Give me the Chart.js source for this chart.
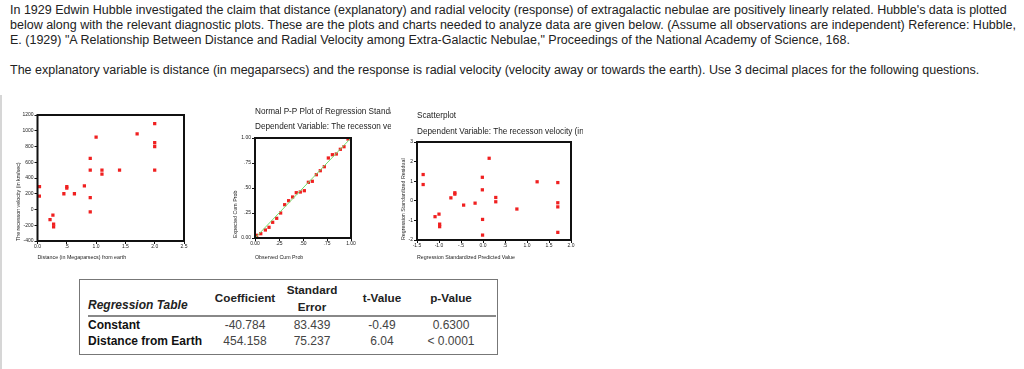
<!DOCTYPE html>
<html>
<head>
<meta charset="utf-8">
<script src="https://cdn.jsdelivr.net/npm/chart.js"></script>
<style>
    body { margin: 0; width: 1024px; height: 369px; overflow: hidden; background: #fff; position: relative;
           font-family: Arial, "Liberation Sans", sans-serif; color: #222; }
    .intro { position: absolute; left: 10px; top: 3px; font-size: 12.5px; line-height: 15px; white-space: nowrap; }
    .edge { position: absolute; left: 0; top: 95px; width: 2px; height: 274px; background: #d6d6d6; }
    canvas { position: absolute; }
    .ctitle { position: absolute; font-size: 8.2px; white-space: nowrap; overflow: hidden; color: #222; }
    .reg { position: absolute; left: 79px; top: 279px; width: 419px; height: 76px; border: 1px solid #777; box-sizing: border-box; }
    .reg table { position: absolute; left: 8px; top: 0; border-collapse: collapse; table-layout: fixed; }
    .reg th { font-size: 11.7px; font-weight: bold; line-height: 17px; text-align: center; vertical-align: middle; height: 34px; padding: 0;
              border-bottom: 2px solid #888; }
    .reg th.lbl { text-align: left; font-style: italic; vertical-align: bottom; padding-bottom: 1px; font-size: 12px; }
    .reg td { font-size: 12px; color: #444; text-align: center; padding: 0; height: 16px; line-height: 16px; }
    .reg td.lbl { text-align: left; font-weight: bold; font-size: 12px; color: #111; }
</style>
</head>
<body>
<div class="intro">In 1929 Edwin Hubble investigated the claim that distance (explanatory) and radial velocity (response) of extragalactic nebulae are positively linearly related. Hubble's data is plotted<br>below along with the relevant diagnostic plots. These are the plots and charts needed to analyze data are given below. (Assume all observations are independent) Reference: Hubble,<br>E. (1929) "A Relationship Between Distance and Radial Velocity among Extra-Galactic Nebulae," Proceedings of the National Academy of Science, 168.<br><br>The explanatory variable is distance (in megaparsecs) and the response is radial velocity (velocity away or towards the earth). Use 3 decimal places for the following questions.</div>
<div class="edge"></div>

<canvas id="fitChart" width="200" height="165" style="left:0;top:100px"></canvas>
<canvas id="ppChart" width="180" height="165" style="left:200px;top:100px"></canvas>
<canvas id="residChart" width="220" height="165" style="left:380px;top:100px"></canvas>

<div class="ctitle" style="left:255px;top:104px;width:136px;line-height:15px">Normal P-P Plot of Regression Standardized Residual<br>Dependent Variable: The recesson velocity (in km/sec)</div>
<div class="ctitle" style="left:417px;top:108px;width:166px;line-height:16px">Scatterplot<br>Dependent Variable: The recesson velocity (in km/sec)</div>

<div class="reg"><table id="regTable"></table></div>

<script>
// Hubble 1929: distance (Mpc) and recession velocity (km/sec)
const distance = [0.032, 0.034, 0.214, 0.263, 0.275, 0.275, 0.45, 0.5, 0.5, 0.63, 0.8, 0.9,
                  0.9, 0.9, 0.9, 1.0, 1.1, 1.1, 1.4, 1.7, 2.0, 2.0, 2.0, 2.0];
const velocity = [170, 290, -130, -70, -185, -220, 200, 290, 270, 200, 300, -30,
                  650, 150, 500, 920, 450, 500, 500, 960, 500, 850, 800, 1090];

// normal P-P plot of the standardized residuals
const observedCum = [0.017, 0.06, 0.108, 0.146, 0.184, 0.226, 0.267, 0.309, 0.35, 0.392, 0.43, 0.472,
                     0.514, 0.556, 0.597, 0.639, 0.68, 0.722, 0.764, 0.806, 0.847, 0.889, 0.927, 0.969];
const expectedCum = [0.027, 0.043, 0.08, 0.107, 0.157, 0.197, 0.25, 0.333, 0.373, 0.41, 0.453, 0.46,
                     0.473, 0.557, 0.567, 0.633, 0.673, 0.713, 0.8, 0.833, 0.84, 0.887, 0.913, 0.99];
const refLine = [0, 1];

// standardized predicted value vs standardized residual
const stdPredicted = [-1.36, -1.36, -1.09, -1.0, -0.985, -0.985, -0.73, -0.64, -0.64, -0.44, -0.18, -0.015,
                      -0.015, -0.01, -0.01, 0.14, 0.29, 0.29, 0.77, 1.23, 1.7, 1.7, 1.7, 1.7];
const stdResidual = [1.34, 0.83, -0.81, -0.68, -1.19, -1.32, 0.15, 0.41, 0.34, -0.22, -0.12, 1.2,
                     0.56, -0.95, -1.75, 2.17, 0.17, -0.05, -0.42, 0.97, 0.93, -0.1, -0.31, -1.61];

// tick values and labels
const distTicks = [0, 0.5, 1, 1.5, 2, 2.5];
const distLabels = ['0.0', '.5', '1.0', '1.5', '2.0', '2.5'];
const velTicks = [-400, -200, 0, 200, 400, 600, 800, 1000, 1200];
const velLabels = ['-400', '-200', '0', '200', '400', '600', '800', '1000', '1200'];
const probTicks = [0, 0.25, 0.5, 0.75, 1];
const probLabels = ['0.00', '.25', '.50', '.75', '1.00'];
const predTicks = [-1.5, -1, -0.5, 0, 0.5, 1, 1.5, 2];
const predLabels = ['-1.5', '-1.0', '-.5', '0.0', '.5', '1.0', '1.5', '2.0'];
const residTicks = [-2, -1, 0, 1, 2, 3];
const residLabels = ['-2', '-1', '0', '1', '2', '3'];

// regression table
const regHeaders = ['Regression Table', 'Coefficient', 'Standard<br>Error', 't-Value', 'p-Value'];
const regTerms = ['Constant', 'Distance from Earth'];
const regCoef = ['-40.784', '454.158'];
const regSE = ['83.439', '75.237'];
const regT = ['-0.49', '6.04'];
const regP = ['0.6300', '< 0.0001'];

Chart.defaults.font.family = 'Arial, "Liberation Sans", sans-serif';
Chart.defaults.color = '#222';

const POINT_RED = 'rgb(240,32,32)';

// SPSS style closed frame round the plot area
const framePlugin = {
    id: 'frame',
    afterDatasetsDraw(chart) {
        const a = chart.chartArea, ctx = chart.ctx;
        ctx.save();
        ctx.strokeStyle = '#111';
        ctx.lineWidth = 2;
        ctx.strokeRect(a.left, a.top, a.right - a.left, a.bottom - a.top);
        ctx.restore();
    }
};

function axis(pos, values, labels, title, fit, titlePad) {
    return {
        type: 'linear', position: pos,
        min: values[0], max: values[values.length - 1],
        afterBuildTicks: s => { s.ticks = values.map(v => ({ value: v })); },
        afterFit: s => { if (pos === 'left') s.width = fit; else s.height = fit; },
        ticks: { font: { size: 5 }, color: '#222', padding: pos === 'left' ? 1 : 0, autoSkip: false, maxRotation: 0,
                 callback: (v, i) => labels[i] },
        grid: { display: true, drawOnChartArea: false, drawTicks: true, tickLength: 3, color: '#111' },
        border: { display: false },
        title: { display: true, text: title, align: 'start', font: { size: 5.3 }, color: '#222', padding: titlePad }
    };
}

function points(xs, ys) {
    return {
        type: 'scatter', data: xs.map((x, i) => ({ x, y: ys[i] })),
        pointStyle: 'rect', pointRadius: 2.3, backgroundColor: POINT_RED, borderWidth: 0
    };
}

function makeChart(id, datasets, xAxis, yAxis, pad) {
    return new Chart(document.getElementById(id).getContext('2d'), {
        data: { datasets },
        options: {
            responsive: false, animation: false, devicePixelRatio: 1,
            layout: { padding: pad },
            plugins: { legend: { display: false }, tooltip: { enabled: false } },
            scales: { x: xAxis, y: yAxis }
        },
        plugins: [framePlugin]
    });
}

makeChart('fitChart', [points(distance, velocity)],
    axis('bottom', distTicks, distLabels, 'Distance (in Megaparsecs) from earth', 24, { top: 0, bottom: 4 }),
    axis('left', velTicks, velLabels, 'The recesson velocity (in km/sec)', 37.5, { top: 15, bottom: 0 }),
    { top: 15, right: 16, left: 0, bottom: 0 });

makeChart('ppChart', [
        { type: 'line', data: refLine.map(v => ({ x: v, y: v })), borderColor: '#6fe06f', borderWidth: 1, pointRadius: 0 },
        points(observedCum, expectedCum)
    ],
    axis('bottom', probTicks, probLabels, 'Observed Cum Prob', 27, { top: 0, bottom: 4 }),
    axis('left', probTicks, probLabels, 'Expected Cum Prob', 55, { top: 32, bottom: 0 }),
    { top: 38, right: 29, left: 0, bottom: 0 });

makeChart('residChart', [points(stdPredicted, stdResidual)],
    axis('bottom', predTicks, predLabels, 'Regression Standardized Predicted Value', 25, { top: 0, bottom: 4 }),
    axis('left', residTicks, residLabels, 'Regression Standardized Residual', 37, { top: 20, bottom: 0 }),
    { top: 42, right: 29, left: 0, bottom: 0 });

const colWidths = [122, 70, 64, 76, 76];
document.getElementById('regTable').innerHTML =
    '<colgroup>' + colWidths.map(w => `<col style="width:${w}px">`).join('') + '</colgroup>' +
    '<tr>' + regHeaders.map((h, i) =>
        `<th class="${i === 0 ? 'lbl' : ''}"${i === 4 ? ' style="padding-right:14px"' : ''}>${h}</th>`).join('') + '</tr>' +
    regTerms.map((t, i) => `
        <tr>
            <td class="lbl">${t}</td><td>${regCoef[i]}</td><td>${regSE[i]}</td><td>${regT[i]}</td>
            <td style="padding-right:14px">${regP[i]}</td>
        </tr>`).join('');
</script>
</body>
</html>
